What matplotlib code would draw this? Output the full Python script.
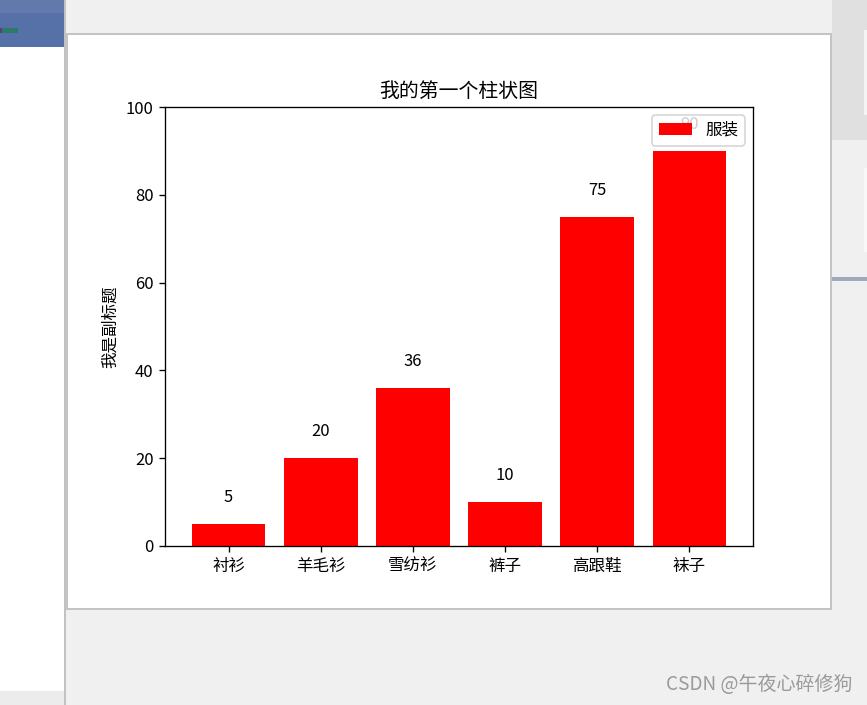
import matplotlib
matplotlib.use("Agg")
import matplotlib.pyplot as plt
from matplotlib.patches import Rectangle

plt.rcParams['font.family'] = ['Noto Sans CJK SC', 'DejaVu Sans']
plt.rcParams['axes.unicode_minus'] = False

categories = ["衬衫", "羊毛衫", "雪纺衫", "裤子", "高跟鞋", "袜子"]
values = [5, 20, 36, 10, 75, 90]
series_name = "服装"
title = "我的第一个柱状图"
ylabel = "我是副标题"
watermark = "CSDN @午夜心碎修狗"

DPI = 119.2
W, H = 867, 705
fig = plt.figure(figsize=(W / DPI, H / DPI), dpi=DPI, facecolor="#f0f0f0")


def rect(x0, y0, x1, y1, color, z=0, **kw):
    # pixel coords with origin at top-left
    fig.add_artist(Rectangle((x0 / W, 1 - y1 / H), (x1 - x0) / W, (y1 - y0) / H,
                             transform=fig.transFigure, facecolor=color,
                             edgecolor="none", zorder=z, **kw))


# surrounding GUI decorations
rect(0, 0, 64, 691, "#ffffff")
rect(0, 691, 64, 705, "#ececec")
rect(0, 0, 64, 47, "#5671a8")
rect(0, 0, 64, 13, "#6279ac")
rect(0, 28, 18, 33, "#2e7a6a")
rect(0, 28, 2, 33, "#5a3a8a")
rect(64, 0, 66, 705, "#c2c2c2")
rect(832, 0, 867, 140, "#e0e0e0")
rect(864, 30, 867, 115, "#f4f4f4")
rect(832, 140, 867, 277, "#f0f0f0")
rect(864, 168, 867, 252, "#f8f8f8")
rect(832, 277, 867, 281, "#a0aabb")
# figure window panel
rect(66, 33, 832, 610, "#c4c4c4")
rect(68, 35, 830, 608, "#ffffff")

# axes at measured pixel location
L, R, T, B = 165, 753, 107, 546
ax = fig.add_axes([L / W, 1 - B / H, (R - L) / W, (B - T) / H])
ax.set_facecolor("white")

x = range(len(categories))
ax.bar(x, values, width=0.8, color="red", label=series_name)
for xi, v in zip(x, values):
    ax.text(xi, v + 5, str(v), ha="center", fontsize=10)

ax.set_xticks(list(x))
ax.set_xticklabels(categories)
ax.set_ylim(0, 100)
ax.set_yticks([0, 20, 40, 60, 80, 100])
ax.set_title(title, fontsize=12)
ax.set_ylabel(ylabel)
ax.legend(loc="upper right")

fig.text(852 / W, 1 - 685 / H, watermark, ha="right", va="center",
         fontsize=11.5, color="#9a9a9a")

fig.savefig("out.png", dpi=DPI, facecolor=fig.get_facecolor())
